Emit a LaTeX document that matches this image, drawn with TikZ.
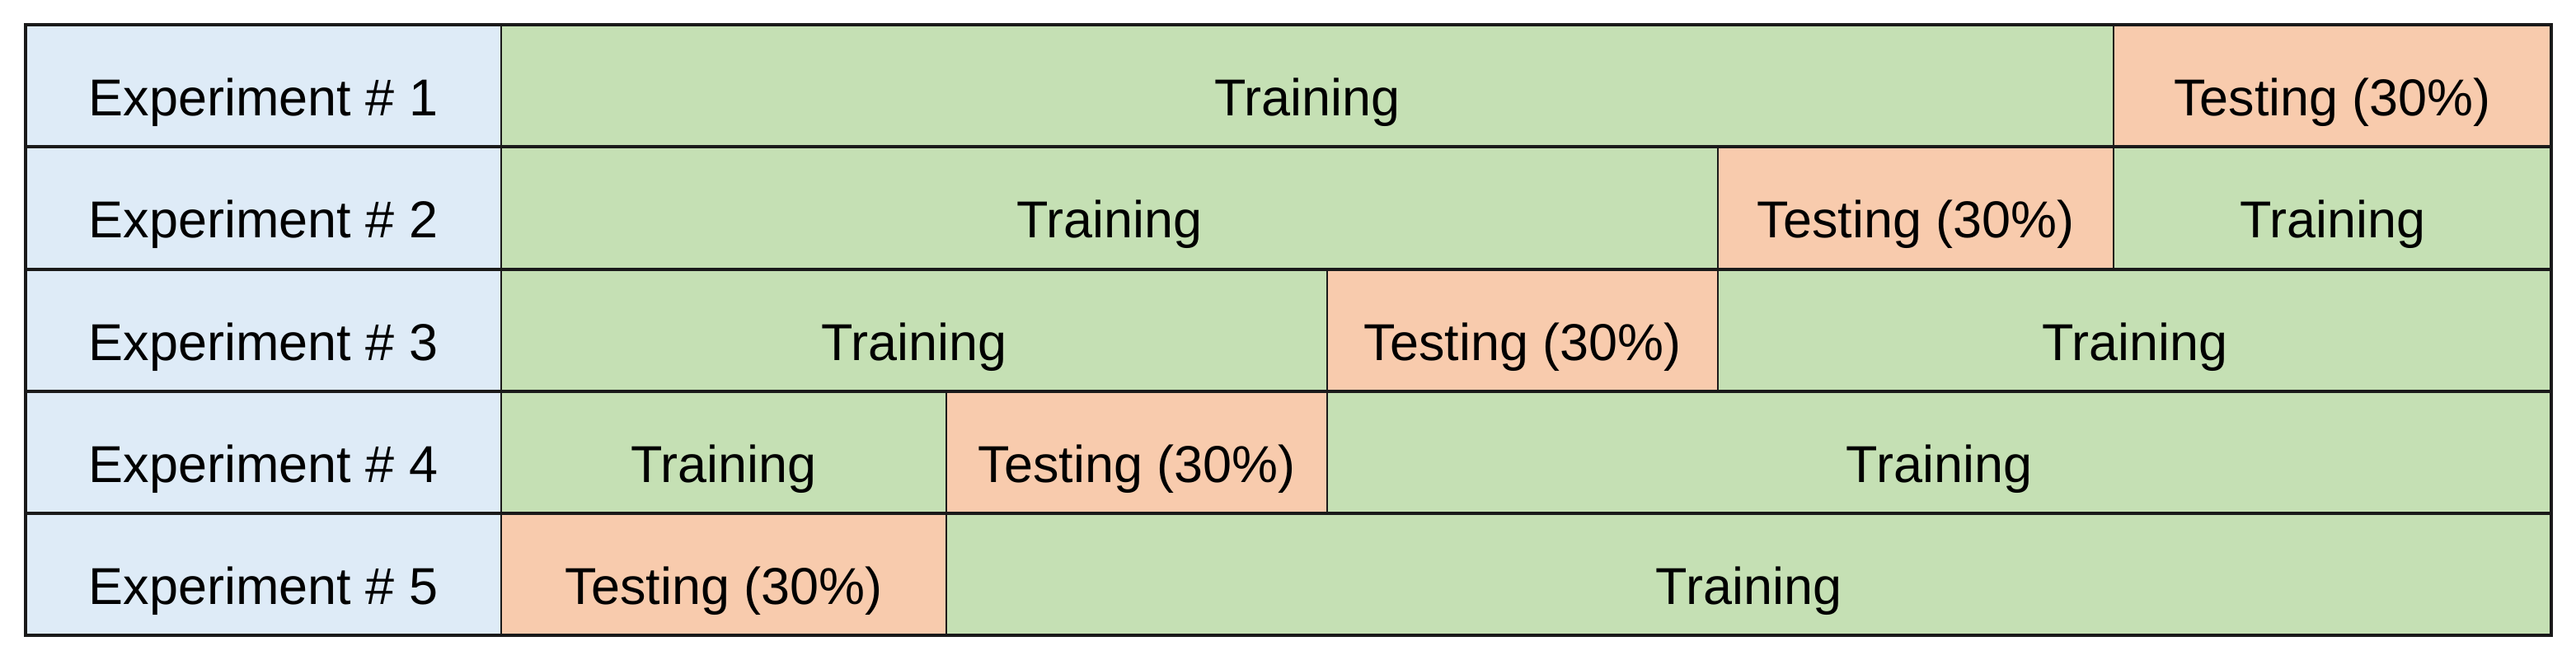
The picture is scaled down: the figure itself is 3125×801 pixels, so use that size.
\documentclass[tikz,border=0pt]{standalone}
\usepackage{fontspec}
\setmainfont{Liberation Sans}
\definecolor{lblue}{HTML}{DEEBF7}
\definecolor{lgreen}{HTML}{C5E0B4}
\definecolor{lorange}{HTML}{F8CBAD}
\definecolor{gridline}{HTML}{1A1A1A}
\tikzset{
  cellbox/.style={rectangle, inner sep=0pt, outer sep=0pt, draw=gridline, line width=0.55pt},
  celltext/.style={anchor=base, inner sep=0pt, font=\fontsize{17.9}{20}\selectfont, text=black},
  rowline/.style={draw=gridline, line width=1.0pt},
}
% #1 name, #2 x-left, #3 x-right, #4 y-top, #5 y-bottom, #6 fill, #7 text
\newcommand{\mkcell}[7]{%
  \pgfmathsetmacro{\cw}{(#3-#2)*0.01}%
  \pgfmathsetmacro{\ch}{(#5-#4)*0.01}%
  \node[cellbox, fill=#6, minimum width=\cw cm, minimum height=\ch cm] (#1) at ({(#2+#3)/2},{(#4+#5)/2}) {};%
  \node[celltext] at ([yshift=-1.10cm]#1.north) {#7};%
}
\begin{document}
\begin{tikzpicture}[x=0.01cm,y=-0.01cm]
\useasboundingbox (0,0) rectangle (3125,801);
% Row 1
\mkcell{l1}{31}{608}{30}{178}{lblue}{Experiment \# 1}
\mkcell{a1}{608}{2564}{30}{178}{lgreen}{Training}
\mkcell{b1}{2564}{3095}{30}{178}{lorange}{Testing (30\%)}
% Row 2
\mkcell{l2}{31}{608}{178}{327}{lblue}{Experiment \# 2}
\mkcell{a2}{608}{2084}{178}{327}{lgreen}{Training}
\mkcell{b2}{2084}{2564}{178}{327}{lorange}{Testing (30\%)}
\mkcell{c2}{2564}{3095}{178}{327}{lgreen}{Training}
% Row 3
\mkcell{l3}{31}{608}{327}{475}{lblue}{Experiment \# 3}
\mkcell{a3}{608}{1610}{327}{475}{lgreen}{Training}
\mkcell{b3}{1610}{2084}{327}{475}{lorange}{Testing (30\%)}
\mkcell{c3}{2084}{3095}{327}{475}{lgreen}{Training}
% Row 4
\mkcell{l4}{31}{608}{475}{623}{lblue}{Experiment \# 4}
\mkcell{a4}{608}{1148}{475}{623}{lgreen}{Training}
\mkcell{b4}{1148}{1610}{475}{623}{lorange}{Testing (30\%)}
\mkcell{c4}{1610}{3095}{475}{623}{lgreen}{Training}
% Row 5
\mkcell{l5}{31}{608}{623}{771}{lblue}{Experiment \# 5}
\mkcell{a5}{608}{1148}{623}{771}{lorange}{Testing (30\%)}
\mkcell{b5}{1148}{3095}{623}{771}{lgreen}{Training}
% thicker row separators and outer frame
\draw[rowline] (l1.south west) -- (b1.south east);
\draw[rowline] (l2.south west) -- (c2.south east);
\draw[rowline] (l3.south west) -- (c3.south east);
\draw[rowline] (l4.south west) -- (c4.south east);
\draw[rowline] (l1.north west) rectangle (b5.south east);
\end{tikzpicture}
\end{document}
